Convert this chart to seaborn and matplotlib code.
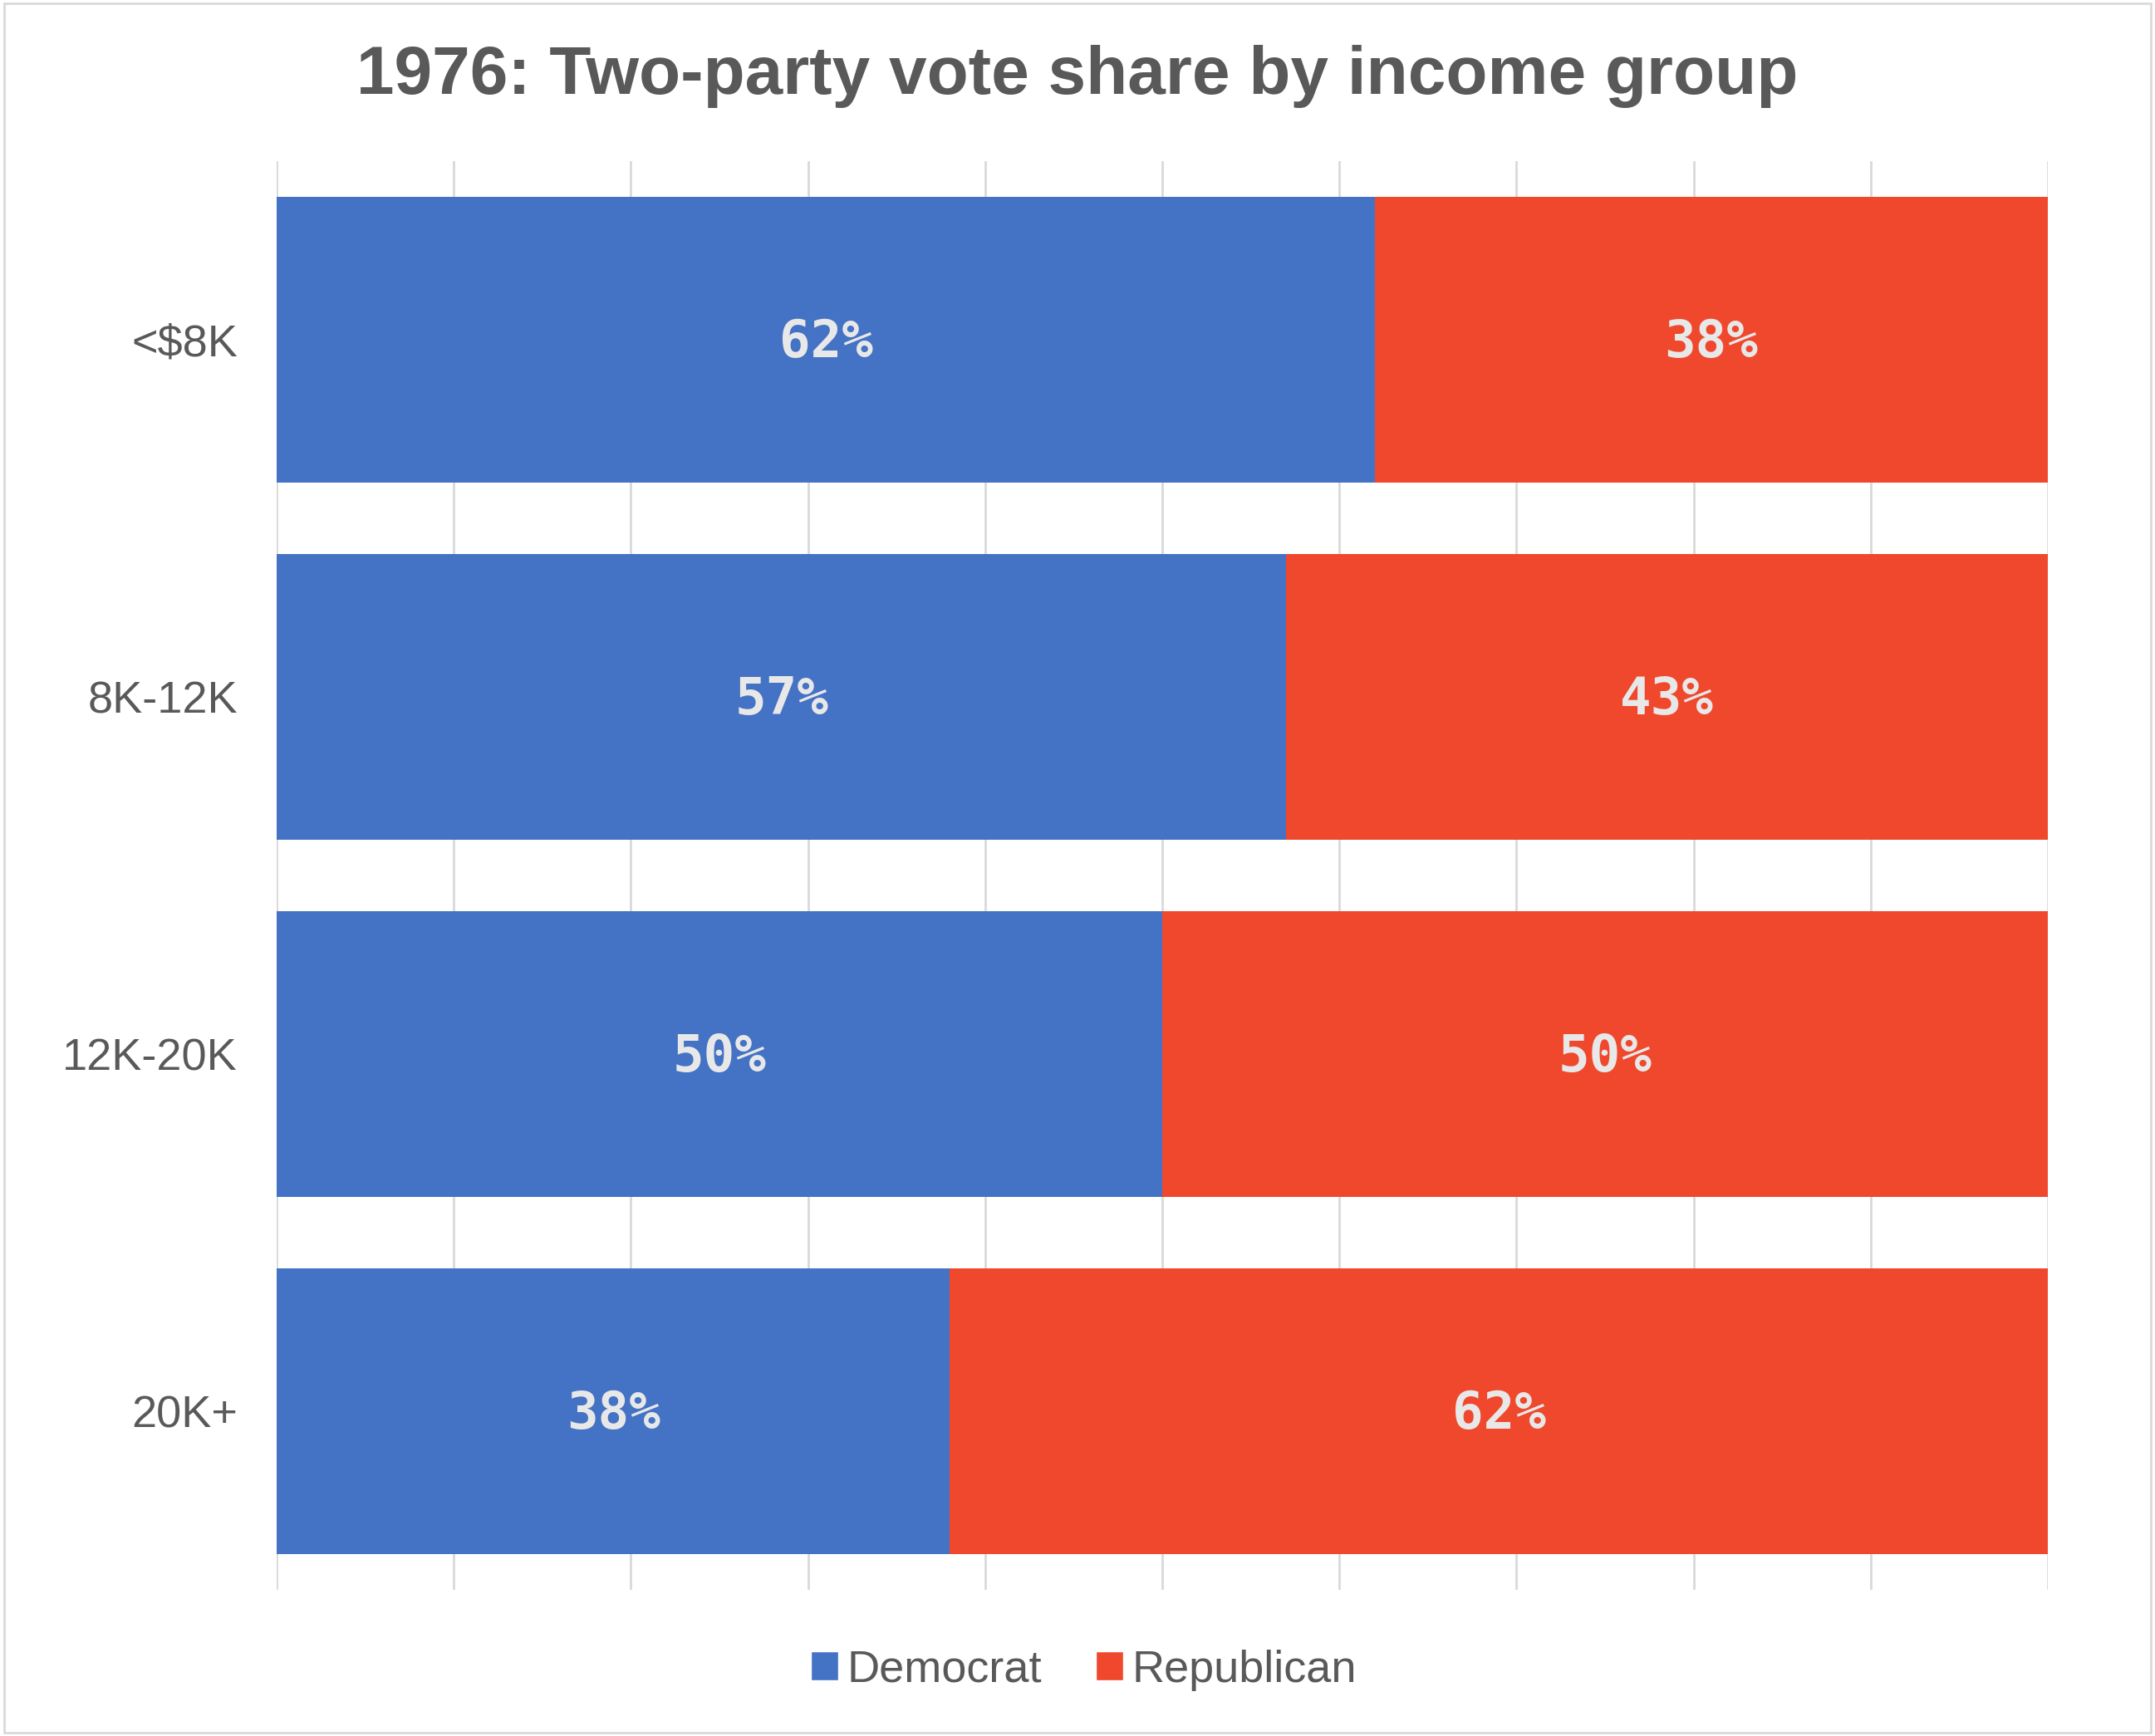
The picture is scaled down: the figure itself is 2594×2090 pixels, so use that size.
import matplotlib
matplotlib.use("Agg")
import matplotlib.pyplot as plt
import seaborn as sns
import pandas as pd
from matplotlib.patches import Patch, Rectangle

# data
groups = ["<$8K", "8K-12K", "12K-20K", "20K+"]
democrat = [0.62, 0.57, 0.50, 0.38]
republican = [0.38, 0.43, 0.50, 0.62]

BLUE = "#4472C4"
RED = "#EF482D"
GREY_TEXT = "#595959"
GRID = "#D9D9D9"

sns.set_theme(style="white")
plt.rcParams["font.family"] = ["Liberation Sans", "DejaVu Sans"]

df = pd.DataFrame({"group": groups, "dem": democrat, "rep": republican})
df["total"] = df["dem"] + df["rep"]

fig = plt.figure(figsize=(25.94, 20.90), dpi=100)
ax = fig.add_axes([0.1284, 0.0842, 0.9503 - 0.1284, 0.9072 - 0.0842])

# stacked: full bar in red, democrat share drawn over it in blue
sns.barplot(data=df, y="group", x="total", color=RED, width=0.8,
            saturation=1, linewidth=0, ax=ax, zorder=2)
sns.barplot(data=df, y="group", x="dem", color=BLUE, width=0.8,
            saturation=1, linewidth=0, ax=ax, zorder=3)

ax.set_xlim(0, 1)
ax.set_ylim(3.5, -0.5)
ax.set_xticks([i / 10 for i in range(11)])
ax.xaxis.grid(True, color=GRID, linewidth=2)
ax.set_axisbelow(True)
ax.tick_params(axis="x", length=0, labelbottom=False)
ax.tick_params(axis="y", length=0, pad=34, labelsize=39, labelcolor=GREY_TEXT)
ax.set_xlabel("")
ax.set_ylabel("")
for s in ax.spines.values():
    s.set_visible(False)

# value labels centred in each segment
for i, (d, r) in enumerate(zip(democrat, republican)):
    ax.text(d / 2, i + 0.01, f"{round(d * 100)}%", ha="center", va="center",
            fontsize=45, fontweight="bold", color="#E8E8E8",
            family="DejaVu Sans Mono", zorder=4)
    ax.text(d + r / 2, i + 0.01, f"{round(r * 100)}%", ha="center", va="center",
            fontsize=45, fontweight="bold", color="#E8E8E8",
            family="DejaVu Sans Mono", zorder=4)

fig.text(0.5, 0.946, "1976: Two-party vote share by income group",
         ha="center", va="baseline", fontsize=59, fontweight="bold",
         color=GREY_TEXT)

handles = [Patch(facecolor=BLUE, label="Democrat"),
           Patch(facecolor=RED, label="Republican")]
fig.legend(handles=handles, loc="center", bbox_to_anchor=(0.503, 0.038),
           ncol=2, frameon=False, fontsize=39, labelcolor=GREY_TEXT,
           handlelength=0.6, handleheight=0.6, handletextpad=0.2,
           columnspacing=1.2)

# thin grey frame round the whole chart
fig.patches.append(Rectangle((0.002, 0.002), 0.996, 0.996, transform=fig.transFigure,
                             fill=False, edgecolor=GRID, linewidth=2))

fig.savefig("out.png", dpi=100, facecolor="white")
